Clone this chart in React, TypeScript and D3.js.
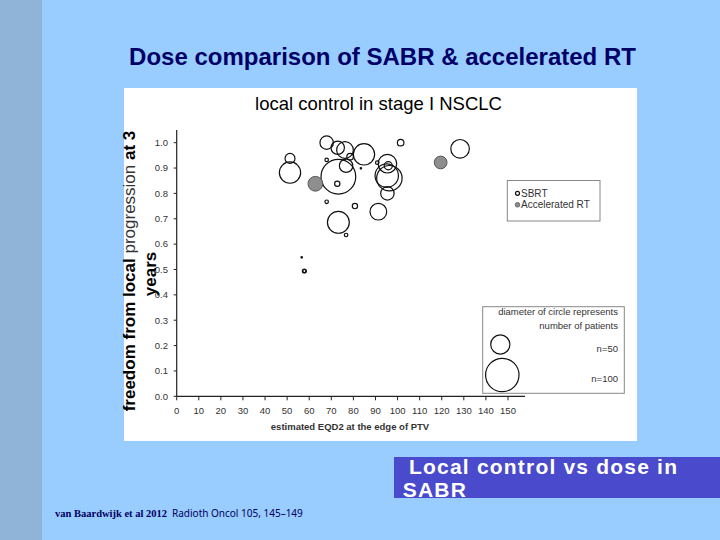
import * as d3 from "d3";

const W = 720;
const H = 540;

// SBRT studies: estimated EQD2 at PTV edge (Gy), 3-yr freedom from local progression, patients
const sbrtDose = [51.3, 51.3, 67.9, 72.9, 76.2, 78.5, 76.7, 73.2, 72.7, 84.8, 83.4, 67.9, 67.9, 80.7, 73.2, 76.7, 56.6, 57.8, 57.8, 90.8, 95.4, 95.8, 95.1, 96.3, 95.4, 91.3, 101.4, 128.3];
const sbrtControl = [0.938, 0.882, 1.0, 0.98, 0.971, 0.945, 0.909, 0.866, 0.838, 0.954, 0.899, 0.932, 0.767, 0.75, 0.686, 0.636, 0.548, 0.494, 0.494, 0.921, 0.917, 0.909, 0.87, 0.86, 0.8, 0.728, 1.0, 0.976];
const sbrtPatients = [22, 57, 32, 32, 42, 13, 32, 105, 10, 57, 2, 6, 6, 10, 59, 6, 2, 7, 5, 6, 48, 17, 64, 71, 32, 42, 13, 48];

// Accelerated RT studies
const artDose = [62.8, 119.5];
const artControl = [0.838, 0.922];
const artPatients = [36, 30];

const xTicks = [0, 10, 20, 30, 40, 50, 60, 70, 80, 90, 100, 110, 120, 130, 140, 150];
const yTicks = [0, 0.1, 0.2, 0.3, 0.4, 0.5, 0.6, 0.7, 0.8, 0.9, 1.0];
const legendPatients = [50, 100];
const legendLabels = ["n=50", "n=100"];

const SANS = "'Liberation Sans', Arial, sans-serif";

const x = d3.scaleLinear().domain([0, 157.7]).range([176.7, 525]);
const y = d3.scaleLinear().domain([0, 1.05]).range([396.3, 130]);
const r = d3.scalePow().exponent(0.8).domain([0, 100]).range([0, 16.7]);

export default function App() {
  const sbrt = sbrtDose.map((d, i) => ({ dose: d, lc: sbrtControl[i], n: sbrtPatients[i] }));
  const art = artDose.map((d, i) => ({ dose: d, lc: artControl[i], n: artPatients[i] }));

  return (
    <svg
      width={W}
      height={H}
      style={{ position: "absolute", left: 0, top: 0, display: "block" }}
      fontFamily={SANS}>
      <defs>
        <clipPath id="footClip">
          <rect x={394} y={457} width={326} height={41} />
        </clipPath>
      </defs>

      {/* slide background */}
      <rect width={W} height={H} fill="#99ccff" />
      <rect width={42} height={H} fill="#8fb4d8" />

      <text x={382.5} y={64.5} textAnchor="middle" fontSize={24} fontWeight="bold" fill="#000066">
        Dose comparison of SABR &amp; accelerated RT
      </text>

      {/* figure panel */}
      <rect x={124} y={88} width={513} height={353} fill="#ffffff" />
      <text x={378.5} y={109.5} textAnchor="middle" fontSize={18.5} fill="#000">
        local control in stage I NSCLC
      </text>

      {/* axes */}
      <line x1={x(0)} x2={x(0)} y1={y(1.05)} y2={y(0)} stroke="#222" strokeWidth={1.2} />
      <line x1={x(0)} x2={x(157.7)} y1={y(0)} y2={y(0)} stroke="#222" strokeWidth={1.2} />
      {yTicks.map((t) => (
        <g key={t}>
          <line x1={x(0) - 3} x2={x(0)} y1={y(t)} y2={y(t)} stroke="#222" strokeWidth={1} />
          <text x={168} y={y(t)} dy="0.35em" textAnchor="end" fontSize={9.5} fill="#333">
            {t.toFixed(1)}
          </text>
        </g>
      ))}
      {xTicks.map((t) => (
        <g key={t}>
          <line x1={x(t)} x2={x(t)} y1={y(0)} y2={y(0) + 4} stroke="#222" strokeWidth={1} />
          <text x={x(t)} y={413.5} textAnchor="middle" fontSize={9.5} fill="#333">
            {t}
          </text>
        </g>
      ))}
      <text x={350} y={430} textAnchor="middle" fontSize={9.5} fontWeight="bold" fill="#333">
        estimated EQD2 at the edge of PTV
      </text>

      {/* y axis title, two lines */}
      <text transform="translate(134.5,271) rotate(-90)" textAnchor="middle" fontSize={17} fontWeight="bold" fill="#000">
        freedom from local <tspan fontWeight="normal" fill="#333">progression</tspan> at 3
      </text>
      <text transform="translate(156,274) rotate(-90)" textAnchor="middle" fontSize={17} fontWeight="bold" fill="#000">
        years
      </text>

      {/* bubbles */}
      {sbrt.map((d, i) => (
        <circle key={`s${i}`} cx={x(d.dose)} cy={y(d.lc)} r={r(d.n)} fill="none" stroke="#111" strokeWidth={1.2} />
      ))}
      {art.map((d, i) => (
        <circle key={`a${i}`} cx={x(d.dose)} cy={y(d.lc)} r={r(d.n)} fill="#8e8e8e" stroke="#555" strokeWidth={1} />
      ))}

      {/* series legend */}
      <rect x={507.3} y={180.5} width={92.7} height={40.5} fill="#fff" stroke="#888" strokeWidth={1} />
      <circle cx={517.5} cy={193.3} r={2} fill="none" stroke="#111" strokeWidth={1.2} />
      <text x={521} y={193.3} dy="0.35em" fontSize={10} fill="#333">SBRT</text>
      <circle cx={517.5} cy={204.8} r={2.3} fill="#8e8e8e" stroke="#555" strokeWidth={0.8} />
      <text x={521} y={204.8} dy="0.35em" fontSize={10} fill="#333">Accelerated RT</text>

      {/* size legend */}
      <rect x={482.7} y={306.7} width={141.6} height={86.6} fill="#fff" stroke="#888" strokeWidth={1} />
      <text x={618} y={315} textAnchor="end" fontSize={9.5} fill="#333">diameter of circle represents</text>
      <text x={618} y={328.5} textAnchor="end" fontSize={9.5} fill="#333">number of patients</text>
      {legendPatients.map((n, i) => {
        const cy = [344.5, 375][i];
        const cx = [500.3, 502.3][i];
        return (
          <g key={n}>
            <circle cx={cx} cy={cy} r={r(n)} fill="none" stroke="#111" strokeWidth={1.2} />
            <text x={618} y={cy + 4} dy="0.35em" textAnchor="end" fontSize={9.5} fill="#333">
              {legendLabels[i]}
            </text>
          </g>
        );
      })}

      {/* caption box */}
      <rect x={394} y={457} width={326} height={41} fill="#4a4acc" />
      <g clipPath="url(#footClip)" fill="#fff" fontSize={21} fontWeight="bold" letterSpacing={1.2}>
        <text x={409} y={473.5}>Local control vs dose in</text>
        <text x={402.7} y={496.5}>SABR</text>
      </g>

      {/* reference */}
      <text x={55} y={517} fill="#000060">
        <tspan fontFamily="'Liberation Serif', 'Times New Roman', serif" fontWeight="bold" fontSize={10.5}>
          van Baardwijk et al 2012
        </tspan>
        <tspan dx={5} fontFamily="'Noto Sans', sans-serif" fontSize={10}>
          Radioth Oncol 105, 145–149
        </tspan>
      </text>
    </svg>
  );
}
